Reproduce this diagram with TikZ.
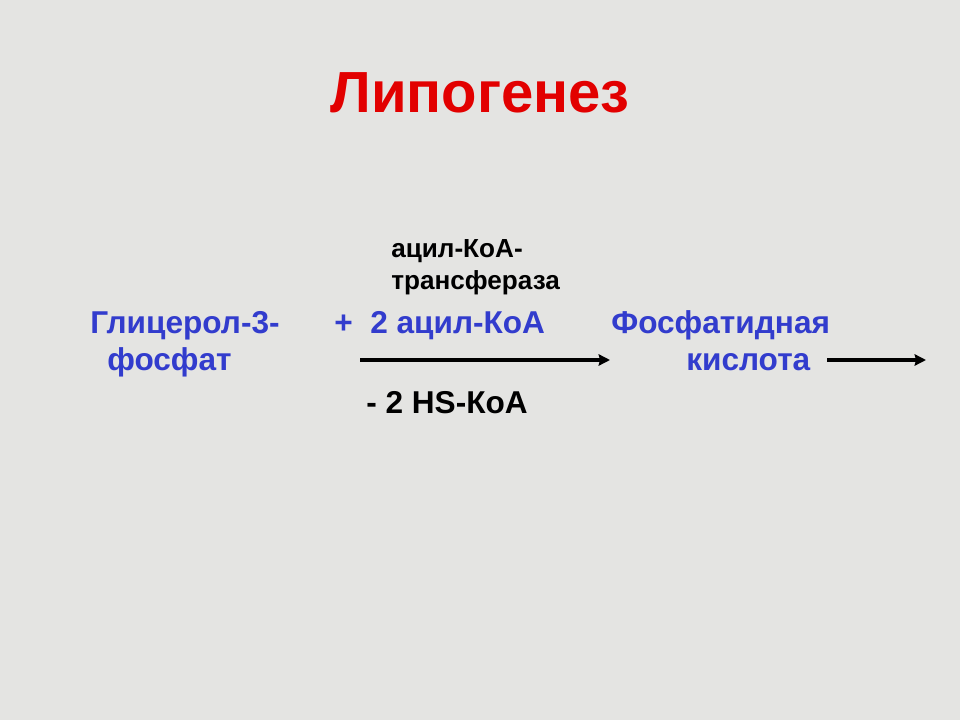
\documentclass[tikz,border=0pt]{standalone}
\usepackage{fontspec}
\setmainfont{Liberation Sans}
\usetikzlibrary{arrows.meta}
\definecolor{bg}{RGB}{228,228,226}
\definecolor{titlered}{RGB}{226,0,0}
\definecolor{chemblue}{RGB}{50,60,205}
\tikzset{
  chem/.style={anchor=base west, inner sep=0pt, text=chemblue, font=\bfseries\fontsize{23.7}{28}\selectfont},
  enz/.style={anchor=base west, inner sep=0pt, text=black, font=\bfseries\fontsize{19.6}{23}\selectfont},
  side/.style={anchor=base west, inner sep=0pt, text=black, font=\bfseries\fontsize{23.7}{28}\selectfont},
  rxn/.style={line width=2.6pt, -{Stealth[length=8.5pt,width=8.5pt,inset=1pt]}}
}
\begin{document}
\begin{tikzpicture}[x=0.75pt,y=-0.75pt]
\fill[bg] (0,0) rectangle (960,720);
\useasboundingbox (0,0) rectangle (960,720);
\node[anchor=base, inner sep=0pt, text=titlered, font=\bfseries\fontsize{43.5}{50}\selectfont] (title) at (480,113) {Липогенез};
\node[enz] (enz1) at (391,258) {ацил-КоА-};
\node[enz] (enz2) at (391,290) {трансфераза};
\node[chem] (g1) at (90,333) {Глицерол-3-};
\node[chem] (g2) at (107,370) {фосфат};
\node[chem] (plus) at (334,333) {+};
\node[chem] (acyl) at (370,333) {2 ацил-КоА};
\node[chem] (pa1) at (611,333) {Фосфатидная};
\node[chem] (pa2) at (686,370) {кислота};
\node[side] (hs) at (366,413) {- 2 HS-КоА};
\coordinate (a1s) at (360,360);
\coordinate (a1e) at (610,360);
\coordinate (a2s) at (827,360);
\coordinate (a2e) at (926,360);
\draw[rxn] (a1s) -- (a1e);
\draw[rxn] (a2s) -- (a2e);
\end{tikzpicture}
\end{document}
